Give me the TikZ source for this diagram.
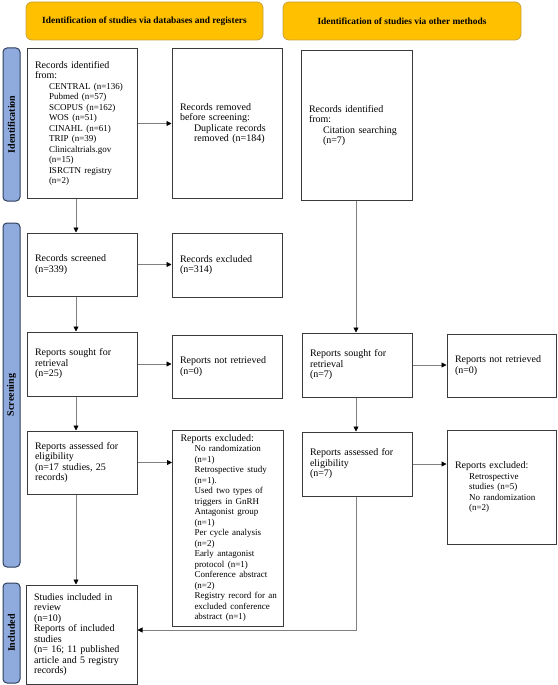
\documentclass[tikz,border=0pt]{standalone}
\usepackage{fontspec}
\setmainfont{Liberation Serif}
\usetikzlibrary{arrows.meta}
\definecolor{hdrfill}{HTML}{FFC000}
\definecolor{hdrline}{HTML}{C9A13A}
\definecolor{sidefill}{HTML}{8FAADC}
\definecolor{sideline}{HTML}{2F3F5F}
\definecolor{boxline}{HTML}{3A3A3A}
\definecolor{arrline}{HTML}{808080}
\newcommand{\subitm}[1]{\hspace*{14pt}\mbox{\fontsize{9}{10.5}\selectfont #1}}
\newcommand{\subten}[1]{\hspace*{14pt}\mbox{#1}}
\begin{document}
\begin{tikzpicture}[x=1pt,y=-1pt,
  hdr/.style={draw=hdrline, fill=hdrfill, rounded corners=6pt, line width=0.8pt, font=\fontsize{9.4}{11}\selectfont\bfseries, inner sep=0pt},
  side/.style={draw=sideline, fill=sidefill, rounded corners=4pt, line width=1pt, rotate=90, font=\fontsize{10}{12}\selectfont\bfseries, inner sep=0pt},
  box/.style={draw=boxline, line width=1pt, inner xsep=8pt, inner ysep=2pt, align=left, font=\fontsize{10}{10.5}\selectfont},
  arr/.style={draw=arrline, line width=0.8pt, -{Triangle[length=5pt,width=5pt,color=black]}}
]
\useasboundingbox (0,0) rectangle (557,685);

% headers
\node[hdr, minimum width=237pt, minimum height=38pt] (hdrL) at (144.5,21) {Identification of studies via databases and registers};
\node[hdr, minimum width=238pt, minimum height=38pt] (hdrR) at (402,21) {Identification of studies via other methods};

% side labels
\node[side, minimum width=153pt, minimum height=17pt] (sideId) at (11.5,124.5) {Identification};
\node[side, minimum width=344pt, minimum height=17pt] (sideSc) at (11.5,395) {Screening};
\node[side, minimum width=100pt, minimum height=17pt] (sideIn) at (11.5,633) {Included};

% left column
\node[box, minimum width=110.5pt, minimum height=149pt, text width=94.5pt] (recId) at (82.25,123.5)
{Records identified\\from:\\\subitm{CENTRAL (n=136)}\\\subitm{Pubmed (n=57)}\\\subitm{SCOPUS (n=162)}\\\subitm{WOS (n=51)}\\\subitm{CINAHL (n=61)}\\\subitm{TRIP (n=39)}\\\subitm{Clinicaltrials.gov}\\\subitm{(n=15)}\\\subitm{ISRCTN registry}\\\subitm{(n=2)}};
\node[box, minimum width=110.5pt, minimum height=63pt, text width=94.5pt] (scr) at (82.25,264.5)
{Records screened\\(n=339)};
\node[box, minimum width=110.5pt, minimum height=64pt, text width=94.5pt] (sought) at (82.25,364)
{Reports sought for\\retrieval\\(n=25)};
\node[box, minimum width=110.5pt, minimum height=63pt, text width=94.5pt] (assess) at (82.25,462.5)
{Reports assessed for\\eligibility\\(n=17 studies, 25\\records)};
\node[box, minimum width=111pt, minimum height=99pt, text width=95pt] (incl) at (81.5,634.5)
{Studies included in\\review\\(n=10)\\Reports of included\\studies\\(n= 16; 11 published\\article and 5 registry\\records)};

% second column
\node[box, minimum width=110pt, minimum height=149pt, text width=94pt] (recRem) at (227,123.5)
{Records removed\\before screening:\\\subten{Duplicate records}\\\subten{removed (n=184)}};
\node[box, minimum width=110pt, minimum height=64pt, text width=94pt] (exc) at (227,265)
{Records excluded\\(n=314)};
\node[box, minimum width=110pt, minimum height=63pt, text width=94pt] (notret) at (227,366.5)
{Reports not retrieved\\(n=0)};
\node[box, minimum width=110.5pt, minimum height=196pt, text width=94.5pt] (repExc) at (227.75,528)
{Reports excluded:\\\subitm{No randomization}\\\subitm{(n=1)}\\\subitm{Retrospective study}\\\subitm{(n=1).}\\\subitm{Used two types of}\\\subitm{triggers in GnRH}\\\subitm{Antagonist group}\\\subitm{(n=1)}\\\subitm{Per cycle analysis}\\\subitm{(n=2)}\\\subitm{Early antagonist}\\\subitm{protocol (n=1)}\\\subitm{Conference abstract}\\\subitm{(n=2)}\\\subitm{Registry record for an}\\\subitm{excluded conference}\\\subitm{abstract (n=1)}};

% third column
\node[box, minimum width=111pt, minimum height=149pt, text width=95pt] (othId) at (356.5,125.5)
{Records identified\\from:\\\subten{Citation searching}\\\subten{(n=7)}};
\node[box, minimum width=110pt, minimum height=64pt, text width=94pt] (othSought) at (357,365)
{Reports sought for\\retrieval\\(n=7)};
\node[box, minimum width=110pt, minimum height=64pt, text width=94pt] (othAssess) at (357,464)
{Reports assessed for\\eligibility\\(n=7)};

% fourth column
\node[box, minimum width=109pt, minimum height=63pt, text width=93pt] (othNotret) at (501.5,365.5)
{Reports not retrieved\\(n=0)};
\node[box, minimum width=109pt, minimum height=114pt, text width=93pt] (othExc) at (501.5,487)
{Reports excluded:\\\subitm{Retrospective}\\\subitm{studies (n=5)}\\\subitm{No randomization}\\\subitm{(n=2)}};

% connectors
\coordinate (vx) at (76,0);
\coordinate (vr) at (356,0);
\coordinate (jn) at (0,630);
\draw[arr] (recId.south -| vx) -- (scr.north -| vx);
\draw[arr] (recId.east) -- (recRem.west);
\draw[arr] (scr.east) -- (scr.east -| exc.west);
\draw[arr] (scr.south -| vx) -- (sought.north -| vx);
\draw[arr] (sought.east) -- (sought.east -| notret.west);
\draw[arr] (sought.south -| vx) -- (assess.north -| vx);
\draw[arr] (assess.east) -- (assess.east -| repExc.west);
\draw[arr] (assess.south -| vx) -- (incl.north -| vx);
\draw[arr] (othId.south -| vr) -- (othSought.north -| vr);
\draw[arr] (othSought.east) -- (othSought.east -| othNotret.west);
\draw[arr] (othSought.south -| vr) -- (othAssess.north -| vr);
\draw[arr] (othAssess.east) -- (othAssess.east -| othExc.west);
\draw[arr] (othAssess.south -| vr) |- (incl.east |- jn);
\end{tikzpicture}
\end{document}
